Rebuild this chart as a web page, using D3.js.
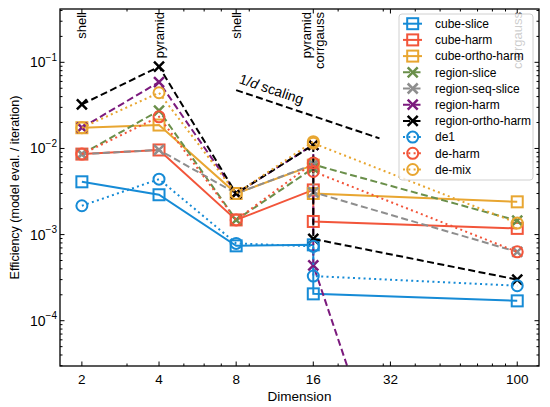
<!DOCTYPE html>
<html><head><meta charset="utf-8">
<script src="https://cdn.jsdelivr.net/npm/d3@7"></script>
<style>body{margin:0;background:#fff}svg{display:block;font-family:"Liberation Sans",Arial,Helvetica,sans-serif}</style>
</head><body><svg id="c" width="550" height="407"></svg>
<script>
// ---- data ----
const dims = [2, 4, 8, 16, 16, 100];
const problems = ["shell", "pyramid", "shell", "pyramid\ncorrgauss", "corrgauss"];
const problemDims = [2, 4, 8, 16, 100];
const seriesNames = ["cube-slice","cube-harm","cube-ortho-harm","region-slice","region-seq-slice","region-harm","region-ortho-harm","de1","de-harm","de-mix"];
const cubeSlice       = [4.1e-3, 2.9e-3, 7.4e-4, 7.6e-4, 2.05e-4, 1.7e-4];
const cubeHarm        = [8.6e-3, 9.6e-3, 1.48e-3, 3.3e-3, 1.42e-3, 1.18e-3];
const cubeOrthoHarm   = [1.74e-2, 1.87e-2, 3.0e-3, 6.4e-3, 3.0e-3, 2.4e-3];
const regionSlice     = [8.6e-3, 2.75e-2, 1.48e-3, 5.9e-3, 6.5e-3, 1.45e-3];
const regionSeqSlice  = [8.6e-3, 9.6e-3, 3.0e-3, 6.5e-3, 3.1e-3, 6.3e-4];
const regionHarm      = [1.74e-2, 5.9e-2, 3.0e-3, 1.1e-2, 4.4e-4, 4e-11];
const regionOrthoHarm = [3.25e-2, 8.9e-2, 3.0e-3, 1.1e-2, 8.9e-4, 3.0e-4];
const de1             = [2.16e-3, 4.4e-3, 7.9e-4, 7.3e-4, 3.3e-4, 2.55e-4];
const deHarm          = [8.6e-3, 2.33e-2, 1.48e-3, 6.8e-3, 5.4e-3, 6.3e-4];
const deMix           = [1.74e-2, 4.43e-2, 3.0e-3, 1.2e-2, 1.15e-2, 1.36e-3];
const scalingDims = [8, 29];
const scalingVals = [0.0476, 0.0131];
const xTicks = [2, 4, 8, 16, 32, 100];
const yTicks = [1e-4, 1e-3, 1e-2, 1e-1];

// ---- styles ----
const C = {blue:"#168bd6", red:"#f2553a", orange:"#e8a631", green:"#6a8f4a", gray:"#8e8e8e", purple:"#7b1a7d", black:"#000"};
const series = [
  {v:cubeSlice, c:C.blue, ls:"solid", m:"square"},
  {v:cubeHarm, c:C.red, ls:"solid", m:"square"},
  {v:cubeOrthoHarm, c:C.orange, ls:"solid", m:"square"},
  {v:regionSlice, c:C.green, ls:"dashed", m:"x"},
  {v:regionSeqSlice, c:C.gray, ls:"dashed", m:"x"},
  {v:regionHarm, c:C.purple, ls:"dashed", m:"x"},
  {v:regionOrthoHarm, c:C.black, ls:"dashed", m:"x"},
  {v:de1, c:C.blue, ls:"dotted", m:"circle"},
  {v:deHarm, c:C.red, ls:"dotted", m:"circle"},
  {v:deMix, c:C.orange, ls:"dotted", m:"circle"},
];
const dashOf = {solid:null, dashed:"7,3.5", dotted:"2,3.3"};

const L=60, R=539, T=9, B=366;
const svg = d3.select("#c");
const x = d3.scaleLog().domain([1.643, 121.6]).range([L, R]);
const y = d3.scaleLog().domain([2.98e-5, 0.416]).range([B, T]);

svg.append("defs").append("clipPath").attr("id","clip")
  .append("rect").attr("x",L).attr("y",T).attr("width",R-L).attr("height",B-T);

// minor ticks
const xMinor = [];
[1,10,100].forEach(b=>{for(let k=2;k<=9;k++){const v=k*b; if(v>1.643&&v<121.6&&!xTicks.includes(v)) xMinor.push(v);}});
const yMinor = [];
[1e-5,1e-4,1e-3,1e-2,1e-1].forEach(b=>{for(let k=2;k<=9;k++){const v=k*b; if(v>2.98e-5&&v<0.416) yMinor.push(v);}});

const axG = svg.append("g").attr("stroke","#000").attr("stroke-width",1);
xTicks.forEach(v=>{const px=x(v);
  axG.append("line").attr("x1",px).attr("x2",px).attr("y1",B).attr("y2",B-4.5);
  axG.append("line").attr("x1",px).attr("x2",px).attr("y1",T).attr("y2",T+4.5);});
xMinor.forEach(v=>{const px=x(v);
  axG.append("line").attr("x1",px).attr("x2",px).attr("y1",B).attr("y2",B-2.5);
  axG.append("line").attr("x1",px).attr("x2",px).attr("y1",T).attr("y2",T+2.5);});
yTicks.forEach(v=>{const py=y(v);
  axG.append("line").attr("x1",L).attr("x2",L+4.5).attr("y1",py).attr("y2",py);
  axG.append("line").attr("x1",R).attr("x2",R-4.5).attr("y1",py).attr("y2",py);});
yMinor.forEach(v=>{const py=y(v);
  axG.append("line").attr("x1",L).attr("x2",L+2.5).attr("y1",py).attr("y2",py);
  axG.append("line").attr("x1",R).attr("x2",R-2.5).attr("y1",py).attr("y2",py);});

// tick labels
xTicks.forEach(v=>{
  svg.append("text").attr("x",x(v)).attr("y",384).attr("text-anchor","middle")
    .attr("font-size",13.5).text(v);});
yTicks.forEach(v=>{
  const e=Math.round(Math.log10(v));
  const t=svg.append("text").attr("x",57).attr("y",y(v)+5).attr("text-anchor","end").attr("font-size",14);
  t.append("tspan").text("10");
  t.append("tspan").attr("dy",-6.5).attr("font-size",10).text("\u2212"+Math.abs(e));});

// axis labels
svg.append("text").attr("x",(L+R)/2).attr("y",401).attr("text-anchor","middle").attr("font-size",13.5).text("Dimension");
svg.append("text").attr("transform",`translate(19,${(T+B)/2}) rotate(-90)`).attr("text-anchor","middle")
  .attr("font-size",12.5).text("Efficiency (model eval. / iteration)");

// problem labels at top
problems.forEach((p,i)=>{
  const lines=p.split("\n");
  const g=svg.append("g").attr("transform",`translate(${x(problemDims[i])},${T+3}) rotate(-90)`);
  lines.forEach((ln,j)=>{
    const off=(j-(lines.length-1)/2)*13;
    g.append("text").attr("x",0).attr("y",off+4.5).attr("text-anchor","end").attr("font-size",13).text(ln);});
});

// 1/d scaling
svg.append("path").attr("clip-path","url(#clip)")
  .attr("d",d3.line().x(d=>x(d[0])).y(d=>y(d[1]))(scalingDims.map((d,i)=>[d,scalingVals[i]])))
  .attr("fill","none").attr("stroke","#000").attr("stroke-width",2).attr("stroke-dasharray","7,3.5");
{
  const x0=x(scalingDims[0]), y0=y(scalingVals[0]), x1=x(scalingDims[1]), y1=y(scalingVals[1]);
  const ang=Math.atan2(y1-y0,x1-x0)*180/Math.PI;
  const t=svg.append("text").attr("transform",`translate(${x0+2},${y0-7}) rotate(${ang})`).attr("font-size",14);
  t.append("tspan").text("1/");
  t.append("tspan").attr("font-style","italic").text("d");
  t.append("tspan").text(" scaling");
}

// markers
function drawMarker(g, m, cx, cy, c){
  if(m==="square") g.append("rect").attr("x",cx-5.5).attr("y",cy-5.5).attr("width",11).attr("height",11)
     .attr("fill","none").attr("stroke",c).attr("stroke-width",2);
  else if(m==="circle") g.append("circle").attr("cx",cx).attr("cy",cy).attr("r",5.5)
     .attr("fill","none").attr("stroke",c).attr("stroke-width",2);
  else { const s=5;
    g.append("path").attr("d",`M${cx-s},${cy-s}L${cx+s},${cy+s}M${cx-s},${cy+s}L${cx+s},${cy-s}`)
     .attr("stroke",c).attr("stroke-width",2.5).attr("fill","none"); }
}

const line = d3.line().x(d=>x(d[0])).y(d=>y(d[1]));
series.forEach(s=>{
  const pts = dims.map((d,i)=>[d, s.v[i]]);
  const g=svg.append("g");
  g.append("path").attr("clip-path","url(#clip)").attr("d",line(pts)).attr("fill","none")
    .attr("stroke",s.c).attr("stroke-width",2).attr("stroke-dasharray",dashOf[s.ls]);
  const mg=g.append("g");
  pts.forEach(p=>{ if(p[1]>=2.98e-5) drawMarker(mg,s.m,x(p[0]),y(p[1]),s.c); });
});

// frame
svg.append("rect").attr("x",L).attr("y",T).attr("width",R-L).attr("height",B-T)
  .attr("fill","none").attr("stroke","#000").attr("stroke-width",1.3);

// legend
const lg=svg.append("g");
lg.append("rect").attr("x",399).attr("y",14).attr("width",134).attr("height",166).attr("rx",3)
  .attr("fill","#fff").attr("fill-opacity",0.8).attr("stroke","#d0d0d0").attr("stroke-width",1);
seriesNames.forEach((n,i)=>{
  const s=series[i]; const cy=23.7+i*16.2;
  lg.append("line").attr("x1",403).attr("x2",422).attr("y1",cy).attr("y2",cy)
    .attr("stroke",s.c).attr("stroke-width",2).attr("stroke-dasharray",dashOf[s.ls]);
  drawMarker(lg,s.m,412.7,cy,s.c);
  lg.append("text").attr("x",435).attr("y",cy+4.3).attr("font-size",12).text(n);
});
</script></body></html>
